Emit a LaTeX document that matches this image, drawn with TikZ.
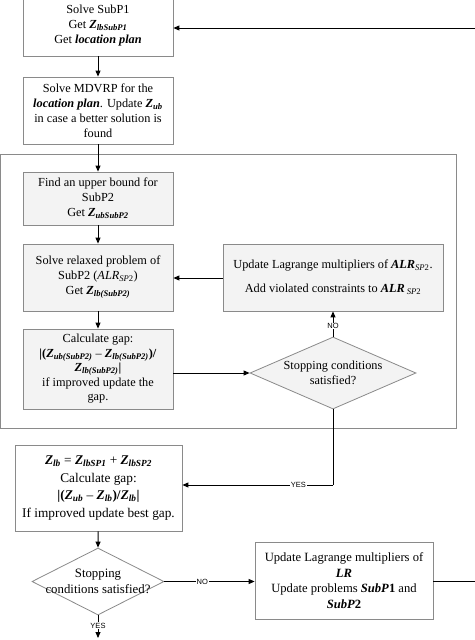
\documentclass[tikz,border=0pt]{standalone}
\usepackage{fontspec}
\setmainfont{Liberation Serif}
\newfontfamily\lblfont{Liberation Sans}
\usetikzlibrary{shapes.geometric,arrows.meta}
\newcommand{\bi}[1]{\textbf{\textit{#1}}}
\newcommand{\Zsub}[1]{\bi{Z}\textsubscript{\bi{#1}}}
\definecolor{boxfill}{HTML}{F3F3F3}
\definecolor{boxline}{HTML}{8A8A8A}
\tikzset{
  box/.style={draw=boxline, line width=0.8pt, rectangle, align=center, inner sep=2pt,
    font=\fontsize{12.3}{15}\selectfont},
  gbox/.style={box, fill=boxfill},
  wbox/.style={box, fill=white},
  dec/.style={draw=boxline, line width=0.8pt, diamond, inner sep=0pt},
  dtext/.style={align=center, inner sep=0pt, font=\fontsize{12.3}{15}\selectfont},
  arr/.style={line width=0.9pt, -{Triangle[length=6pt,width=5pt]}},
  ln/.style={line width=0.9pt},
  lbl/.style={font=\lblfont\fontsize{7.5}{8}\selectfont, fill=white, inner sep=0.8pt},
  frame/.style={draw=boxline, line width=0.8pt}
}
\begin{document}
\begin{tikzpicture}[x=1pt,y=1pt]
\useasboundingbox (0,0) rectangle (474,-640);
\fill[white] (0,0) rectangle (474,-640);
% big frame
\node[frame, minimum width=456pt, minimum height=274pt, inner sep=0pt] (frame) at (228,-291) {};
% nodes
\node[wbox, minimum width=150pt, minimum height=60pt] (b1) at (98,-26)
  {Solve SubP1\\Get \Zsub{lbSubP1}\\Get \bi{location plan}};
\node[wbox, minimum width=150pt, minimum height=67pt] (b2) at (98,-110.5)
  {Solve MDVRP for the\\\bi{location plan}. Update \Zsub{ub}\\in case a better solution is\\found};
\node[gbox, minimum width=150pt, minimum height=53pt] (b3) at (98,-198.5)
  {Find an upper bound for\\SubP2\\Get \Zsub{ubSubP2}};
\node[gbox, minimum width=150pt, minimum height=67pt] (b4) at (98,-277.5)
  {Solve relaxed problem of\\SubP2 (\textit{ALR}\textsubscript{\textit{SP}2})\\Get \Zsub{lb(SubP2)}};
\node[gbox, minimum width=220pt, minimum height=67pt, font=\fontsize{12.3}{24}\selectfont] (b5) at (333,-277.5)
  {Update Lagrange multipliers of \bi{ALR}\textsubscript{\textit{SP}2}.\\Add violated constraints to \bi{ALR}\,\textsubscript{\textit{SP}2}};
\node[gbox, minimum width=150pt, minimum height=80pt, font=\fontsize{12.3}{14.5}\selectfont] (b6) at (98,-369)
  {Calculate gap:\\\textbf{|(}\Zsub{ub(SubP2)} -- \Zsub{lb(SubP2)}\textbf{)/}\\\Zsub{lb(SubP2)}\textbf{|}\\if improved update the\\gap.};
\node[dec, fill=boxfill, minimum width=166pt, minimum height=72pt] (d1) at (333,-373) {};
\node[dtext] (d1t) at (d1.center) {Stopping conditions\\satisfied?};
\node[wbox, minimum width=167pt, minimum height=86pt, font=\fontsize{13.3}{17.5}\selectfont] (b7) at (98.5,-488)
  {\Zsub{lb} = \Zsub{lbSP1} + \Zsub{lbSP2}\\Calculate gap:\\\textbf{|(}\Zsub{ub} -- \Zsub{lb}\textbf{)/}\Zsub{lb}\textbf{|}\\If improved update best gap.};
\node[dec, fill=white, minimum width=132pt, minimum height=67pt] (d2) at (98,-581.5) {};
\node[dtext, font=\fontsize{12.8}{16}\selectfont] (d2t) at (d2.center) {Stopping\\conditions satisfied?};
\node[wbox, minimum width=178pt, minimum height=77pt, font=\fontsize{12.6}{15.7}\selectfont] (b8) at (344,-580.5)
  {Update Lagrange multipliers of\\\bi{LR}\\Update problems \bi{SubP}\textbf{1} and\\\bi{SubP}\textbf{2}};
% coordinates
\coordinate (loopR) at (480,-581);
\coordinate (loopT) at (480,-28);
\coordinate (turn) at (333,-485);
\coordinate (endB) at (98,-638);
% connectors
\draw[arr] (b1) -- (b2);
\draw[arr] (b2) -- (b3);
\draw[arr] (b3) -- (b4);
\draw[arr] (b4) -- (b6);
\draw[arr] (b5.west |- 0,-278) -- (b4.east |- 0,-278);
\draw[arr] (b6.east |- d1.west) -- (d1.west);
\draw[arr] (d1.north) -- node[lbl, pos=0.42] {NO} (b5.south);
\draw[ln] (d1.south) -- (turn);
\draw[arr] (turn) -- node[lbl, pos=0.23] {YES} (b7.east |- turn);
\draw[arr] (b7) -- (d2.north);
\draw[arr] (d2.east) -- node[lbl, pos=0.42] {NO} (b8.west |- d2.east);
\draw[arr] (d2.south) -- node[lbl, pos=0.45] {YES} (endB);
\draw[ln] (b8.east |- loopR) -- (loopR) -- (loopT);
\draw[arr] (loopT) -- (b1.east |- loopT);
\end{tikzpicture}
\end{document}
